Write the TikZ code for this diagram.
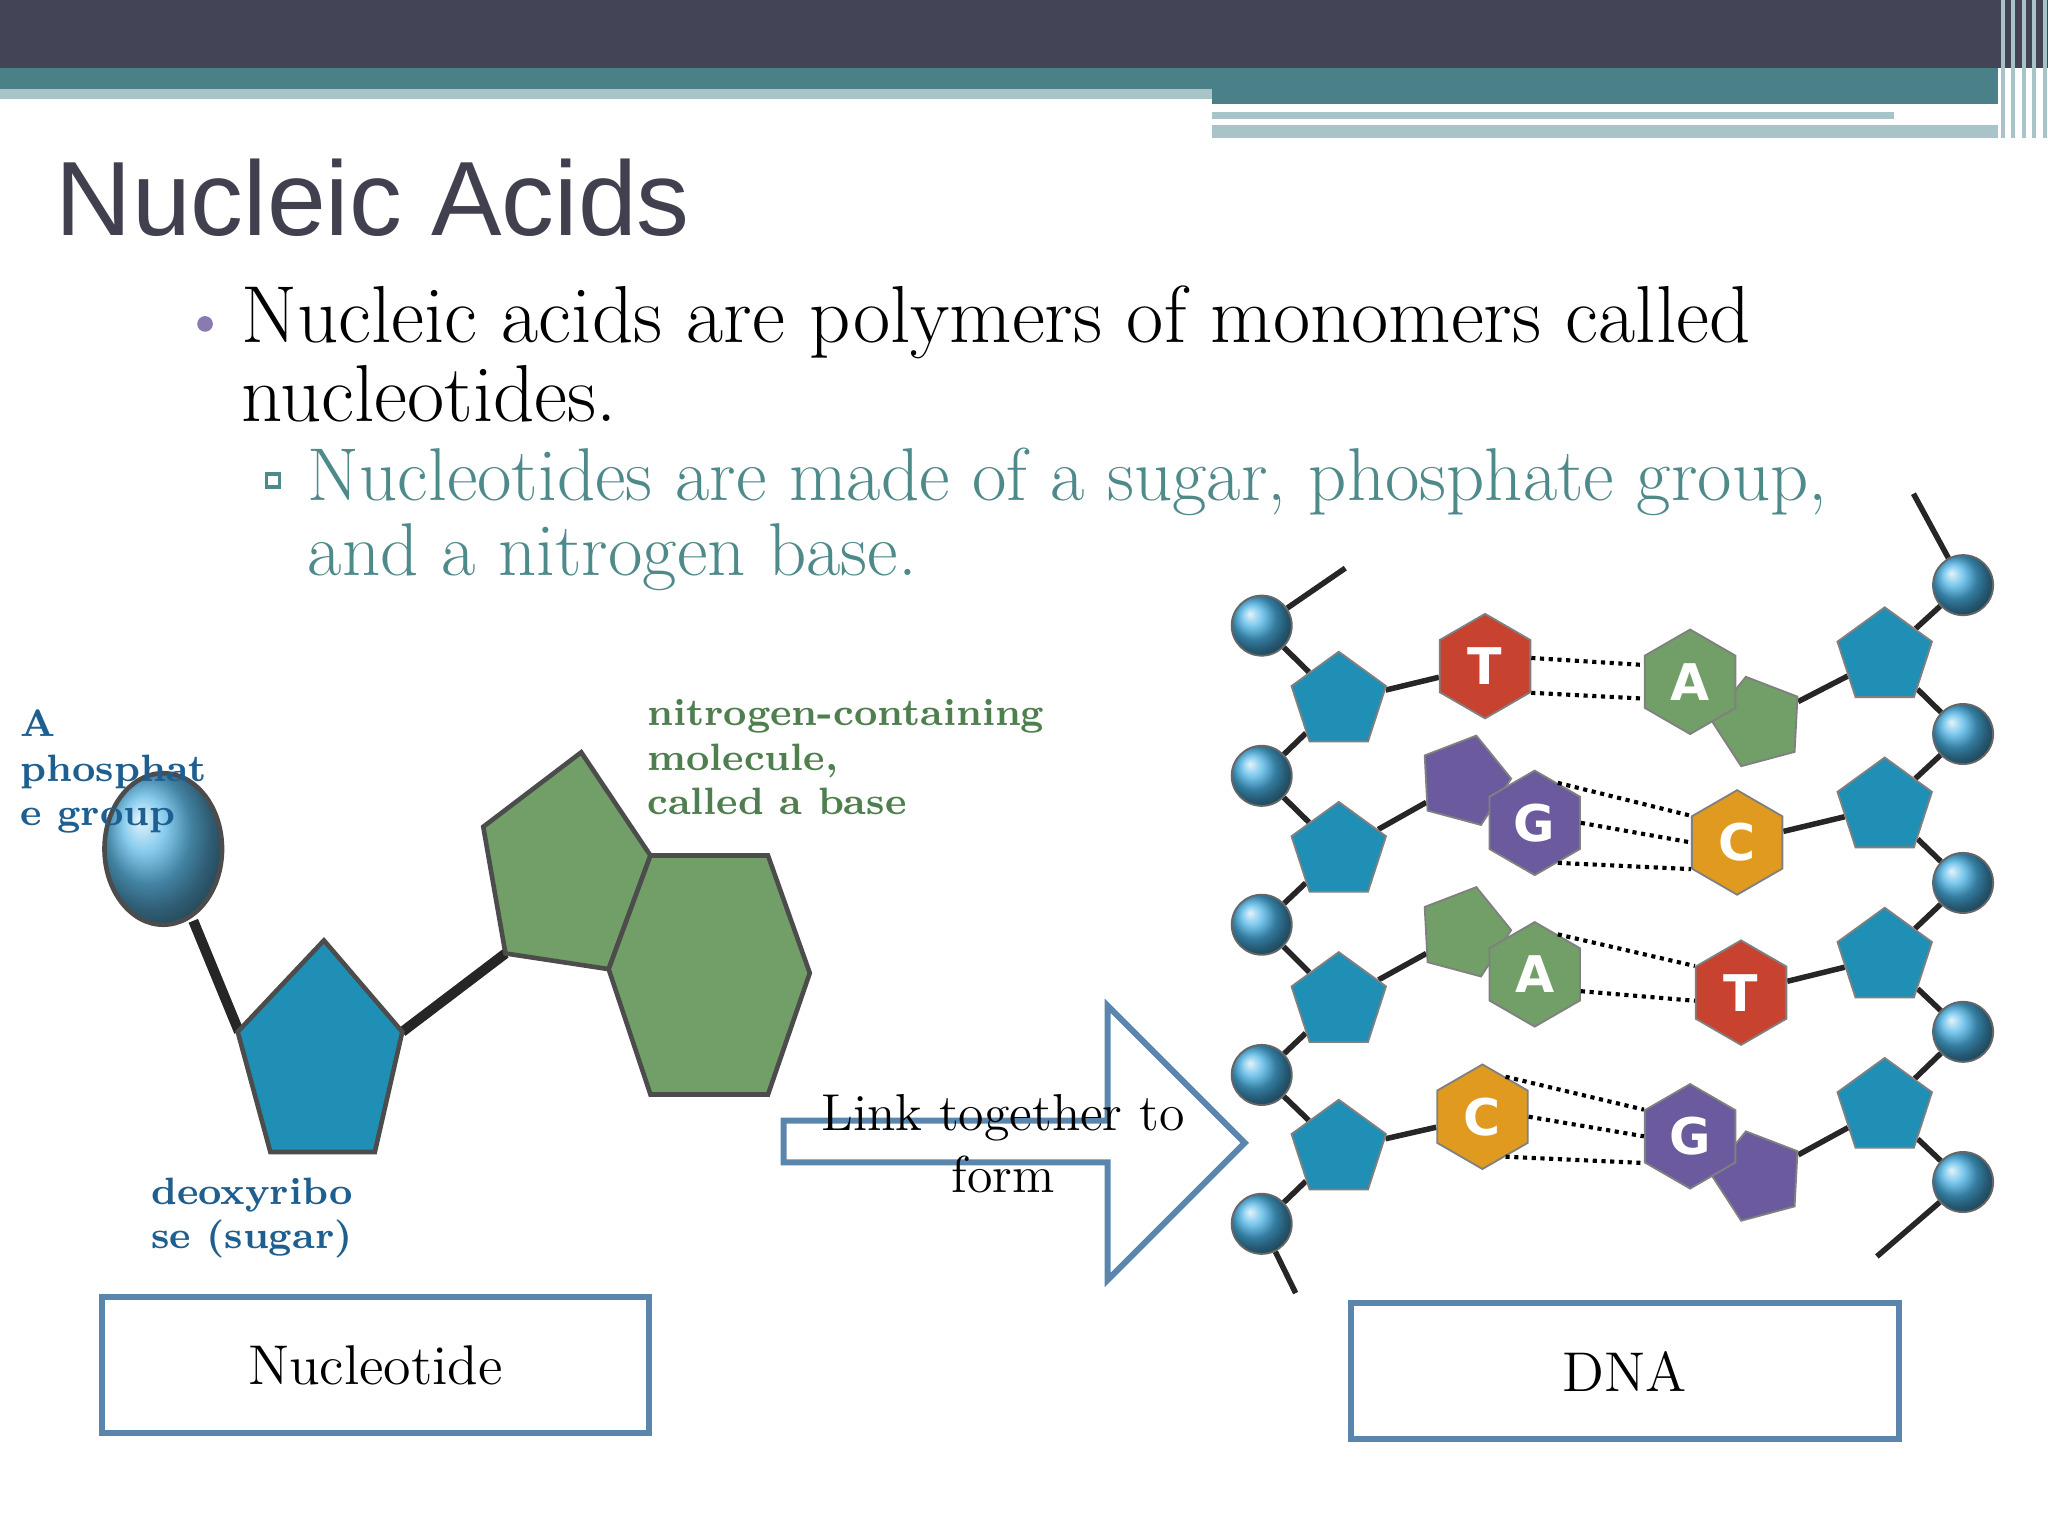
\documentclass[tikz,border=0pt]{standalone}
\usepackage{fontspec}
\newfontfamily\titlefont{Liberation Sans}
\newfontfamily\basefont{DejaVu Sans}
\usetikzlibrary{shapes.geometric,backgrounds}
\definecolor{barDark}{HTML}{444457}
\definecolor{barTeal}{HTML}{4A8088}
\definecolor{barLight}{HTML}{A8C4C8}
\definecolor{titleCol}{HTML}{40404F}
\definecolor{subCol}{HTML}{4F8A8B}
\definecolor{sugarCol}{HTML}{1F8FB5}
\definecolor{ballCol}{HTML}{2AA4E0}
\definecolor{greenCol}{HTML}{729E68}
\definecolor{redCol}{HTML}{C8432F}
\definecolor{purpleCol}{HTML}{6B5A9E}
\definecolor{orangeCol}{HTML}{E09A1F}
\definecolor{labBlue}{HTML}{1F5F8F}
\definecolor{labGreen}{HTML}{4F7F4F}
\definecolor{boxCol}{HTML}{5A86AD}
\tikzset{
  hexa/.style = {regular polygon, regular polygon sides=6, shape border rotate=30,
    minimum size=0.8cm, inner sep=0pt, draw=black!50, text=white,
    font=\basefont\bfseries\fontsize{11}{11}\selectfont},
  penta/.style = {regular polygon, regular polygon sides=5,
    minimum size=0.72cm, inner sep=0pt, draw=black!50},
  sugar/.style = {penta, fill=sugarCol, minimum size=0.76cm},
  phos/.style = {circle, minimum size=0.46cm, inner sep=0pt, draw=black!60,
    shading=ball, ball color=ballCol!85!white},
  link/.style = {line width=1.2pt, black!85},
  pair/.style = {densely dotted, line width=0.9pt},
  labbox/.style = {draw=boxCol, line width=1.3pt, minimum width=4.19cm,
    minimum height=1.04cm, font=\fontsize{12.2}{12.2}\selectfont},
  lab/.style = {align=left, anchor=north west, inner sep=0pt, font=\bfseries\fontsize{8.3}{9.7}\selectfont}
}
\begin{document}
\begin{tikzpicture}[x=0.01cm,y=-0.01cm]
  \useasboundingbox (0,0) rectangle (1568,1176);
  % header bars
  \fill[barDark] (0,0) rectangle (1568,52);
  \fill[barTeal] (0,52) rectangle (928,68);
  \fill[barLight] (0,68) rectangle (928,76);
  \fill[barTeal] (928,52) rectangle (1530,80);
  \fill[barLight] (928,86) rectangle (1450,91);
  \fill[barLight] (928,96) rectangle (1530,106);
  \foreach \xv in {1532,1540,1548,1556,1564} \fill[barLight] (\xv,0) rectangle ++(3,106);
  % title and bullets
  \node[anchor=base west, inner sep=0pt, text=titleCol, font=\titlefont\fontsize{23}{23}\selectfont] (title) at (42,180) {Nucleic Acids};
  \fill[purpleCol!80] (157,248) circle (6);
  \node[anchor=north west, align=left, inner sep=0pt, font=\fontsize{17.6}{17.2}\selectfont] (b1) at (184,218)
    {Nucleic acids are polymers of monomers called\\nucleotides.};
  \draw[subCol, line width=0.8pt] (204,363) rectangle (214,373);
  \node[anchor=north west, align=left, text=subCol, inner sep=0pt, font=\fontsize{16.3}{16.3}\selectfont] (b2) at (235,342)
    {Nucleotides are made of a sugar, phosphate group,\\and a nitrogen base.};
  % nucleotide
  \draw[line width=2.2pt, black!85] (148,705) -- (183,790);
  \draw[line width=2.2pt, black!85] (308,790) -- (387,730);
  \shade[ball color=ballCol!75!white, draw=black!70, line width=1pt] (125,650) ellipse (45 and 58);
  \draw[fill=sugarCol, draw=black!70, line width=1pt] (248,720) -- (308,790) -- (287,882) -- (207,882) -- (182,790) -- cycle;
  \draw[fill=greenCol, draw=black!70, line width=1pt] (445,576) -- (498,655) -- (466,742) -- (387,730) -- (370,633) -- cycle;
  \draw[fill=greenCol, draw=black!70, line width=1pt] (498,655) -- (588,655) -- (620,745) -- (588,838) -- (498,838) -- (466,742) -- cycle;
  \node[lab, text=labBlue] (phoslab) at (15,543) {A\\phosphat\\e group};
  \node[lab, text=labGreen] (baselab) at (495,535) {nitrogen-containing\\molecule,\\called a base};
  \node[lab, text=labBlue] (sugarlab) at (115,901) {deoxyribo\\se (sugar)};
  % arrow
  \draw[boxCol, line width=1.3pt] (600,858) -- (848,858) -- (848,770) -- (953,875) -- (848,980) -- (848,890) -- (600,890) -- cycle;
  \node[align=center, font=\fontsize{11.3}{13.5}\selectfont] (arrlab) at (768,876) {Link together to\\form};
  % boxes
  \node[labbox] (nucbox) at (287.5,1045) {Nucleotide};
  \node[labbox] (dnabox) at (1244,1050) {DNA};
  % DNA backbone
  \foreach \i/\yb/\yp in {1/479/537,2/594/652,3/708/767,4/823/880} {
    \node[phos] (lp\i) at (966,\yb) {};
    \node[sugar] (ls\i) at (1025,\yp) {};
  }
  \node[phos] (lp5) at (966,937) {};
  \foreach \i/\yb/\yp in {1/448/503,2/562/618,3/676/733,4/790/848} {
    \node[phos] (rp\i) at (1503,\yb) {};
    \node[sugar] (rs\i) at (1443,\yp) {};
  }
  \node[phos] (rp5) at (1503,905) {};
  \coordinate (ltop) at (1030,435);
  \coordinate (lbot) at (992,990);
  \coordinate (rtop) at (1465,378);
  \coordinate (rbot) at (1437,962);
  % bases
  \node[hexa, fill=redCol] (t1) at (1137,510) {T};
  \node[penta, fill=greenCol, rotate=15] (ap1) at (1346,553) {};
  \node[hexa, fill=greenCol] (a1) at (1294,522) {A};
  \node[penta, fill=purpleCol, rotate=-15] (gp2) at (1121,598) {};
  \node[hexa, fill=purpleCol] (g2) at (1175,630) {G};
  \node[hexa, fill=orangeCol] (c2) at (1330,645) {C};
  \node[penta, fill=greenCol, rotate=-15] (ap3) at (1121,714) {};
  \node[hexa, fill=greenCol] (a3) at (1175,746) {A};
  \node[hexa, fill=redCol] (t3) at (1333,760) {T};
  \node[hexa, fill=orangeCol] (c4) at (1135,855) {C};
  \node[penta, fill=purpleCol, rotate=15] (gp4) at (1346,901) {};
  \node[hexa, fill=purpleCol] (g4) at (1294,870) {G};
  % backbone links
  \begin{pgfonlayer}{background}
  \draw[link] (ltop) -- (lp1);
  \foreach \i [evaluate=\i as \j using int(\i+1)] in {1,2,3,4} {
    \draw[link] (lp\i) -- (ls\i) -- (lp\j);
    \draw[link] (rp\i) -- (rs\i) -- (rp\j);
  }
  \draw[link] (lp5) -- (lbot);
  \draw[link] (rtop) -- (rp1);
  \draw[link] (rp5) -- (rbot);
  \draw[link] (ls1) -- (t1);  \draw[link] (rs1) -- (ap1);
  \draw[link] (ls2) -- (gp2); \draw[link] (rs2) -- (c2);
  \draw[link] (ls3) -- (ap3); \draw[link] (rs3) -- (t3);
  \draw[link] (ls4) -- (c4);  \draw[link] (rs4) -- (gp4);
  \end{pgfonlayer}
  % hydrogen bonds
  \draw[pair] (t1.10) -- (a1.160);  \draw[pair] (t1.-30) -- (a1.-160);
  \draw[pair] (g2.60) -- (c2.150);  \draw[pair] (g2.0) -- (c2.180);  \draw[pair] (g2.-60) -- (c2.-150);
  \draw[pair] (a3.60) -- (t3.150);  \draw[pair] (a3.-20) -- (t3.-170);
  \draw[pair] (c4.60) -- (g4.150);  \draw[pair] (c4.0) -- (g4.180);  \draw[pair] (c4.-60) -- (g4.-150);
\end{tikzpicture}
\end{document}
